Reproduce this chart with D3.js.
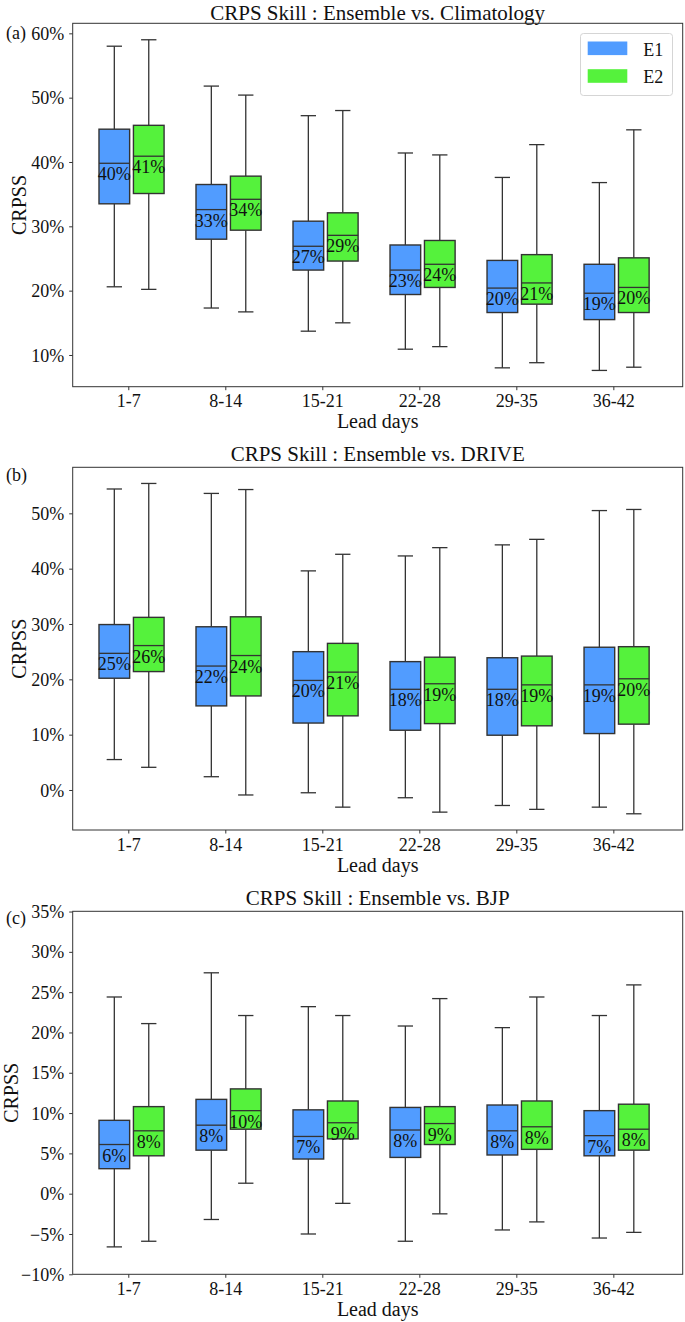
<!DOCTYPE html>
<html>
<head>
<meta charset="utf-8">
<script src="https://cdn.jsdelivr.net/npm/d3@7"></script>
<style>
  html, body { margin: 0; padding: 0; background: #fff; }
  svg { display: block; }
  svg text { font-family: "Liberation Serif", "Times New Roman", Times, serif !important; fill: #111; }
</style>
</head>
<body>
<svg id="chart" width="685" height="1322"></svg>
<script>
// ---------------- DATA ----------------
const leadDays = ["1-7", "8-14", "15-21", "22-28", "29-35", "36-42"];
const seriesNames = ["E1", "E2"];

// each entry: [whisker low, Q1, median, Q3, whisker high] in %
const climE1 = [[20.6,33.5,39.8,45.1,58.0],[17.3,28.0,32.6,36.5,51.8],[13.7,23.2,26.9,30.8,47.2],[10.9,19.4,23.2,27.1,41.4],[8.0,16.6,20.4,24.7,37.6],[7.6,15.5,19.6,24.1,36.8]];
const climE2 = [[20.2,35.1,40.9,45.7,59.0],[16.7,29.4,34.2,37.8,50.4],[15.0,24.6,28.6,32.1,48.0],[11.3,20.5,24.1,27.8,41.1],[8.8,17.9,21.2,25.6,42.7],[8.1,16.6,20.5,25.1,45.0]];
const climLabels1 = ["40%","33%","27%","23%","20%","19%"];
const climLabels2 = ["41%","34%","29%","24%","21%","20%"];

const driveE1 = [[5.5,20.2,24.7,29.9,54.4],[2.4,15.2,22.4,29.5,53.6],[-0.5,12.1,19.8,25.0,39.6],[-1.4,10.8,18.2,23.2,42.3],[-2.8,9.9,18.2,23.9,44.3],[-3.1,10.2,19.0,25.8,50.5]];
const driveE2 = [[4.1,21.4,26.1,31.2,55.4],[-0.9,17.0,24.3,31.3,54.3],[-3.1,13.4,21.3,26.5,42.6],[-4.0,12.0,19.2,24.0,43.8],[-3.5,11.6,19.0,24.2,45.3],[-4.3,11.9,20.1,25.9,50.7]];
const driveLabels1 = ["25%","22%","20%","18%","18%","19%"];
const driveLabels2 = ["26%","24%","21%","19%","19%","20%"];

const bjpE1 = [[-6.6,3.1,6.1,9.1,24.4],[-3.2,5.4,8.5,11.7,27.4],[-5.0,4.3,7.1,10.4,23.2],[-5.9,4.5,7.9,10.7,20.8],[-4.5,4.8,7.8,11.0,20.6],[-5.5,4.7,7.2,10.3,22.1]];
const bjpE2 = [[-5.9,4.7,7.8,10.8,21.1],[1.3,8.0,10.3,13.0,22.1],[-1.2,6.8,8.8,11.5,22.1],[-2.5,6.1,8.7,10.8,24.2],[-3.5,5.5,8.3,11.5,24.4],[-4.8,5.4,8.0,11.1,25.9]];
const bjpLabels1 = ["6%","8%","7%","8%","8%","7%"];
const bjpLabels2 = ["8%","10%","9%","9%","8%","8%"];

const climTicks = [10, 20, 30, 40, 50, 60];
const driveTicks = [0, 10, 20, 30, 40, 50];
const bjpTicks = [-10, -5, 0, 5, 10, 15, 20, 25, 30, 35];

const titles = ["CRPS Skill : Ensemble vs. Climatology", "CRPS Skill : Ensemble vs. DRIVE", "CRPS Skill : Ensemble vs. BJP"];
const panelLetters = ["(a)", "(b)", "(c)"];

// ---------------- STYLE / LAYOUT ----------------
const FONT = '"Liberation Serif", "Times New Roman", Times, serif';
const colors = ["#519cff", "#55f23c"];
const edge = "#333";
const left = 72.7, right = 682.7;
const offsets = [-0.144, 0.211];
const boxW = 0.316;

const panels = [
  { e: [climE1, climE2], labels: [climLabels1, climLabels2], ticks: climTicks, domain: [5.07, 61.56], top: 23.3, bottom: 386.7, legend: true, ylabX: 26, letterY: 39 },
  { e: [driveE1, driveE2], labels: [driveLabels1, driveLabels2], ticks: driveTicks, domain: [-7.23, 58.32], top: 467.3, bottom: 830, legend: false, ylabX: 26, letterY: 481 },
  { e: [bjpE1, bjpE2], labels: [bjpLabels1, bjpLabels2], ticks: bjpTicks, domain: [-10, 35.03], top: 911.3, bottom: 1274.3, legend: false, ylabX: 18, letterY: 924 }
];

const svg = d3.select("#chart");
const x = d3.scaleLinear().domain([-0.573, 5.715]).range([left, right]);
const fmt = v => (v < 0 ? "\u2212" + Math.abs(v) : v) + "%";

function txt(sel, size) {
  return sel.style("font-family", FONT).style("font-size", size + "px").attr("fill", "#111");
}

panels.forEach((p, pi) => {
  const y = d3.scaleLinear().domain(p.domain).range([p.bottom, p.top]);
  const g = svg.append("g");

  // title
  txt(g.append("text").attr("x", (left + right) / 2).attr("y", Math.max(p.top - 6.3, 19.5))
    .attr("text-anchor", "middle"), 21).text(titles[pi]);
  // panel letter
  txt(g.append("text").attr("x", 6).attr("y", p.letterY), 18).text(panelLetters[pi]);

  // y axis
  const ya = g.append("g").attr("transform", `translate(${left},0)`)
    .call(d3.axisLeft(y).tickValues(p.ticks).tickFormat(fmt).tickSize(3.5).tickPadding(5));
  ya.attr("font-family", null).attr("font-size", null);
  ya.select(".domain").remove();
  ya.selectAll("line").attr("stroke", edge).attr("stroke-width", 1);
  txt(ya.selectAll("text"), 18).attr("dy", "0.34em");

  // x axis
  const xa = g.append("g").attr("transform", `translate(0,${p.bottom})`)
    .call(d3.axisBottom(x).tickValues(d3.range(leadDays.length)).tickFormat(i => leadDays[i]).tickSize(3.5).tickPadding(4.5));
  xa.attr("font-family", null).attr("font-size", null);
  xa.select(".domain").remove();
  xa.selectAll("line").attr("stroke", edge).attr("stroke-width", 1);
  txt(xa.selectAll("text"), 18);

  // axis labels
  txt(g.append("text").attr("x", (left + right) / 2).attr("y", p.bottom + 41.5)
    .attr("text-anchor", "middle"), 20).text("Lead days");
  txt(g.append("text").attr("transform", `translate(${p.ylabX},${(p.top + p.bottom) / 2}) rotate(-90)`)
    .attr("text-anchor", "middle"), 20).text("CRPSS");

  // boxes
  p.e.forEach((series, si) => {
    series.forEach((s, i) => {
      const [lo, q1, med, q3, hi] = s;
      const cx = x(i + offsets[si]);
      const bw = x(boxW) - x(0);
      const cw = bw / 2;
      const bg = g.append("g");
      bg.append("line").attr("x1", cx).attr("x2", cx).attr("y1", y(hi)).attr("y2", y(q3)).attr("stroke", edge).attr("stroke-width", 1.3);
      bg.append("line").attr("x1", cx).attr("x2", cx).attr("y1", y(q1)).attr("y2", y(lo)).attr("stroke", edge).attr("stroke-width", 1.3);
      bg.append("line").attr("x1", cx - cw / 2).attr("x2", cx + cw / 2).attr("y1", y(hi)).attr("y2", y(hi)).attr("stroke", edge).attr("stroke-width", 1.3);
      bg.append("line").attr("x1", cx - cw / 2).attr("x2", cx + cw / 2).attr("y1", y(lo)).attr("y2", y(lo)).attr("stroke", edge).attr("stroke-width", 1.3);
      bg.append("rect").attr("x", cx - bw / 2).attr("y", y(q3)).attr("width", bw).attr("height", y(q1) - y(q3))
        .attr("fill", colors[si]).attr("stroke", edge).attr("stroke-width", 1.4);
      bg.append("line").attr("x1", cx - bw / 2).attr("x2", cx + bw / 2).attr("y1", y(med)).attr("y2", y(med)).attr("stroke", edge).attr("stroke-width", 1.3);
      txt(bg.append("text").attr("x", cx).attr("y", y(med) + 17).attr("text-anchor", "middle"), 18)
        .text(p.labels[si][i]);
    });
  });

  // frame
  g.append("rect").attr("x", left).attr("y", p.top).attr("width", right - left).attr("height", p.bottom - p.top)
    .attr("fill", "none").attr("stroke", edge).attr("stroke-width", 1);

  // legend
  if (p.legend) {
    const lg = g.append("g");
    lg.append("rect").attr("x", 580.5).attr("y", 33.5).attr("width", 92).attr("height", 62).attr("rx", 3)
      .attr("fill", "#fff").attr("fill-opacity", 0.8).attr("stroke", "#d5d5d5").attr("stroke-width", 1);
    seriesNames.forEach((n, k) => {
      lg.append("rect").attr("x", 587.7).attr("y", 41.5 + k * 27.7).attr("width", 39.6).attr("height", 13.6).attr("fill", colors[k]);
      txt(lg.append("text").attr("x", 643.3).attr("y", 55.6 + k * 27.7), 18).text(n);
    });
  }
});
</script>
</body>
</html>
